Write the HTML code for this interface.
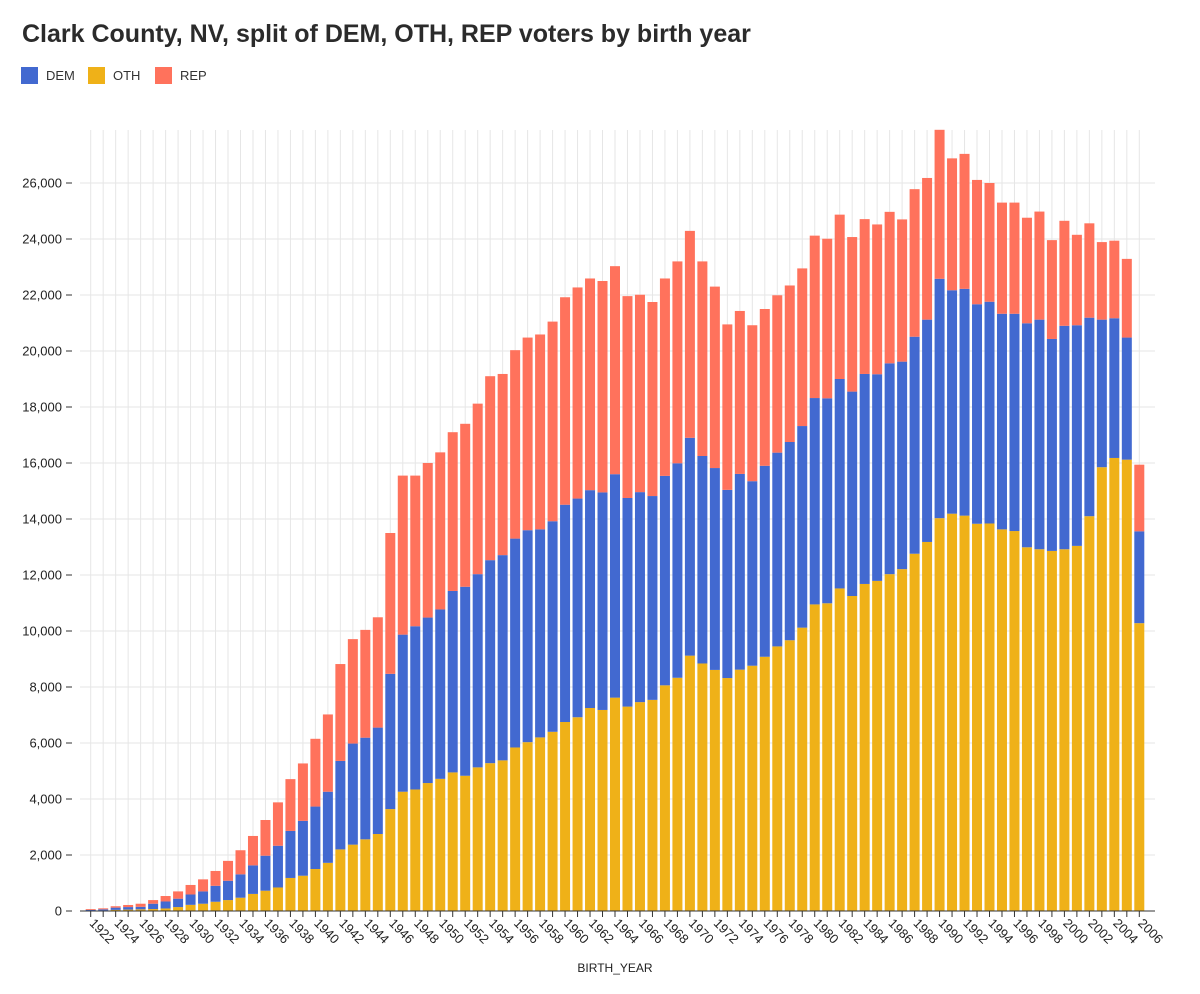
<!DOCTYPE html>
<html><head><meta charset="utf-8">
<style>
body{margin:0;background:#fff;font-family:"Liberation Sans",sans-serif;}
#wrap{position:relative;width:1200px;height:994px;}
h1{position:absolute;left:22px;top:20px;margin:0;font-size:25px;font-weight:bold;color:#2b2b2b;}
.leg{position:absolute;top:67px;display:flex;align-items:center;font-size:13px;color:#333;}
.sw{width:17px;height:17px;margin-right:8px;}
</style></head><body>
<div id="wrap">
<h1>Clark County, NV, split of DEM, OTH, REP voters by birth year</h1>
<div class="leg" style="left:21px"><div class="sw" style="background:#4269d0"></div>DEM</div>
<div class="leg" style="left:88px"><div class="sw" style="background:#efb118"></div>OTH</div>
<div class="leg" style="left:155px"><div class="sw" style="background:#ff725c"></div>REP</div>
<svg id="chart" width="1200" height="994" style="position:absolute;left:0;top:0"></svg>
</div>
<script>
const startYear = 1922;
const othValues = [10,20,40,50,60,70,90,140,220,260,330,390,475,610,725,840,1180,1260,1500,1720,2200,2370,2560,2750,3640,4260,4340,4570,4720,4950,4830,5130,5280,5380,5840,6030,6200,6400,6750,6920,7250,7180,7620,7300,7460,7540,8060,8330,9120,8840,8610,8320,8620,8760,9080,9450,9670,10120,10950,10990,11520,11250,11680,11790,12030,12210,12760,13180,14030,14190,14120,13830,13840,13630,13570,12990,12920,12860,12920,13040,14100,15850,16180,16120,10280];
const demValues = [30,40,80,90,90,190,250,300,370,440,570,690,835,1020,1250,1490,1680,1960,2230,2540,3160,3610,3630,3800,4830,5610,5830,5910,6050,6480,6750,6900,7250,7330,7460,7570,7430,7520,7760,7810,7780,7770,7980,7450,7500,7280,7480,7660,7780,7410,7210,6720,6990,6590,6820,6920,7080,7200,7370,7320,7480,7300,7500,7380,7530,7410,7750,7940,8550,7980,8100,7840,7920,7700,7760,8000,8200,7570,7980,7880,7090,5270,4990,4360,3280];
const repValues = [30,35,50,75,110,130,195,260,340,430,530,710,860,1050,1275,1550,1850,2050,2420,2760,3460,3730,3850,3940,5030,5680,5380,5520,5610,5670,5820,6090,6570,6470,6730,6880,6960,7130,7410,7540,7560,7550,7430,7210,7050,6930,7050,7210,7390,6950,6480,5910,5820,5570,5600,5620,5590,5630,5800,5700,5870,5520,5530,5350,5410,5080,5270,5060,5320,4710,4820,4440,4240,3970,3970,3770,3860,3530,3750,3230,3370,2770,2770,2810,2380];
const yTicks = [0,2000,4000,6000,8000,10000,12000,14000,16000,18000,20000,22000,24000,26000];

const NS="http://www.w3.org/2000/svg";
const svg=document.getElementById('chart');
const n=othValues.length;
const x0=90.7, x1=1139.3;
const xs=i=>x0+(x1-x0)*i/(n-1);
const yMax=27893;
const ys=v=>911-(v/yMax)*781;
function mk(tag,attrs){const e=document.createElementNS(NS,tag);for(const k in attrs)e.setAttribute(k,attrs[k]);svg.appendChild(e);return e;}

// grid
for(let i=0;i<n;i++){
  const g=mk('line',{x1:xs(i),x2:xs(i),y1:130,y2:911,stroke:'#e6e6e6','stroke-width':1});
  
  
}
yTicks.forEach(t=>{
  const g=mk('line',{x1:80,x2:1155,y1:ys(t),y2:ys(t),stroke:'#e6e6e6','stroke-width':1});
  
  
  const tk=mk('line',{x1:66,x2:72,y1:ys(t),y2:ys(t),stroke:'#333','stroke-width':1});
  
  
  const tx=mk('text',{x:62,y:ys(t)+4.5,'text-anchor':'end','font-size':13,fill:'#222','font-family':'Liberation Sans, sans-serif'});
  tx.textContent=t.toLocaleString('en-US');
  
  
});
// bars
const bw=10;
for(let i=0;i<n;i++){
  const x=xs(i)-bw/2;
  let base=0;
  [[othValues,'#efb118','bar-oth'],[demValues,'#4269d0','bar-dem'],[repValues,'#ff725c','bar-rep']].forEach(([arr,c,name])=>{
    const v=arr[i];
    const r=mk('rect',{x:x,y:ys(base+v),width:bw,height:ys(base)-ys(base+v),fill:c});
    
    
    base+=v;
  });
}
// x axis
const ax=mk('line',{x1:80,x2:1155,y1:911,y2:911,stroke:'#333','stroke-width':1});


for(let i=0;i<n;i++){
  const tk=mk('line',{x1:xs(i),x2:xs(i),y1:911,y2:917,stroke:'#333','stroke-width':1});
  
  
  if(i%2===0){
    const tx=mk('text',{x:0,y:0,'font-size':13,fill:'#222','font-family':'Liberation Sans, sans-serif',transform:`translate(${xs(i)-2},${924}) rotate(45)`});
    tx.textContent=String(startYear+i);
    
    
  }
}
const xt=mk('text',{x:615,y:972,'text-anchor':'middle','font-size':12,fill:'#222','font-family':'Liberation Sans, sans-serif'});
xt.textContent='BIRTH_YEAR';


</script>
</body></html>
